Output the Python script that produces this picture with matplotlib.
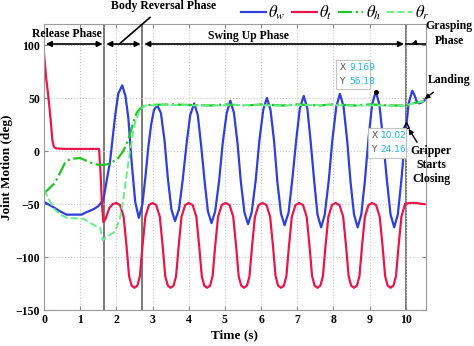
import matplotlib.pyplot as plt
from matplotlib.patches import Rectangle

plt.rcParams['mathtext.fontset'] = 'stix'

# theta_w (blue)
tw = [0, 0.1, 0.26, 0.45, 0.62, 1.04, 1.15, 1.36, 1.5, 1.64, 1.72, 1.82, 1.96, 2.05, 2.16,
      2.25, 2.33, 2.42, 2.52, 2.62, 2.72, 2.8, 2.88, 2.96, 3.04, 3.13,
      3.23, 3.33, 3.42, 3.52, 3.62, 3.73, 3.83, 3.94, 4.04, 4.15,
      4.25, 4.34, 4.44, 4.53, 4.63, 4.73, 4.84, 4.94, 5.05, 5.15,
      5.25, 5.35, 5.44, 5.54, 5.64, 5.74, 5.85, 5.95, 6.06, 6.16,
      6.26, 6.36, 6.45, 6.55, 6.65, 6.76, 6.86, 6.97, 7.07, 7.18,
      7.28, 7.37, 7.47, 7.56, 7.66, 7.76, 7.87, 7.97, 8.08, 8.18,
      8.28, 8.38, 8.47, 8.57, 8.67, 8.77, 8.87, 8.97, 9.07, 9.17,
      9.27, 9.37, 9.48, 9.58, 9.68, 9.78, 9.88, 9.98, 10.08, 10.18,
      10.25, 10.3, 10.37, 10.45, 10.52]
vw = [-48, -50, -53, -57, -60, -60, -58, -55, -52, -46, -30, -11, 32, 54, 62,
      52, 31, -10, -48, -63, -50, -25, 3, 25, 39, 43,
      36, 10, -25, -55, -66, -55, -28, 7, 34, 45,
      34, 6, -29, -57, -68, -57, -28, 8, 36, 47.5,
      36, 7, -29, -58, -69, -58, -28, 9, 39, 50,
      39, 9, -29, -59, -70, -58, -28, 10, 40, 52,
      40, 9, -29, -60, -72, -60, -28, 10, 42, 54,
      42, 10, -28, -60, -72, -60, -28, 12, 44, 56.2,
      44, 12, -28, -60, -72, -60, -27, 12, 45, 57,
      52, 47, 45, 46, 48]

# theta_t (red)
tt = [0, 0.06, 0.12, 0.18, 0.23, 0.27, 0.33, 0.6, 1.0, 1.52, 1.56, 1.6, 1.64, 1.7, 1.8, 1.9, 2.0,
      2.1, 2.2, 2.28, 2.35, 2.42, 2.5, 2.58, 2.65, 2.72, 2.8, 2.9, 3.0,
      3.1, 3.2, 3.28, 3.35, 3.42, 3.5, 3.58, 3.65, 3.72, 3.8, 3.9, 4.0,
      4.11, 4.21, 4.29, 4.36, 4.43, 4.51, 4.59, 4.66, 4.73, 4.81, 4.91, 5.02,
      5.13, 5.23, 5.31, 5.38, 5.45, 5.53, 5.61, 5.68, 5.75, 5.83, 5.93, 6.04,
      6.15, 6.25, 6.33, 6.4, 6.47, 6.55, 6.63, 6.7, 6.77, 6.85, 6.95, 7.05,
      7.16, 7.26, 7.34, 7.41, 7.48, 7.56, 7.64, 7.71, 7.78, 7.86, 7.96, 8.06,
      8.17, 8.27, 8.35, 8.42, 8.49, 8.57, 8.65, 8.72, 8.79, 8.87, 8.97, 9.07,
      9.18, 9.28, 9.36, 9.43, 9.5, 9.58, 9.66, 9.73, 9.8, 9.88, 9.98, 10.1,
      10.3, 10.45, 10.52]
vt = [91, 68, 51, 30, 10, 4, 2.5, 2, 2, 2, -20, -50, -67, -64, -54, -50, -49,
      -51, -62, -90, -118, -127, -129, -127, -118, -90, -62, -51, -49,
      -51, -62, -90, -118, -127, -129, -127, -118, -90, -62, -51, -49,
      -51, -62, -90, -118, -127, -129, -127, -118, -90, -62, -51, -49,
      -51, -62, -90, -118, -127, -129, -127, -118, -90, -62, -51, -49,
      -51, -62, -90, -118, -127, -129, -127, -118, -90, -62, -51, -49,
      -51, -62, -90, -118, -127, -129, -127, -118, -90, -62, -51, -49,
      -51, -62, -90, -118, -127, -129, -127, -118, -90, -62, -51, -49,
      -51, -62, -90, -118, -127, -129, -127, -118, -90, -62, -50, -49,
      -49, -50, -50]

# theta_h (green, dash-dot)
th = [0, 0.15, 0.3, 0.45, 0.58, 0.72, 1.0, 1.27, 1.5, 1.65, 1.82, 1.95, 2.05, 2.19, 2.33,
      2.45, 2.56, 2.65, 2.74, 2.9, 3.5, 4.0, 4.6, 5.0, 5.6, 6.0, 6.6, 7.0, 7.6, 8.0, 8.6,
      9.0, 9.6, 9.9, 10.0, 10.2, 10.5]
vh = [-40, -35, -30, -20, -11, -7.5, -6.6, -10.7, -13, -13, -12, -9, -6.6, 0, 10.6,
      25, 36, 40, 42, 43.5, 44, 43.5, 43, 44, 43, 44, 43, 44, 43, 44, 43,
      44, 43, 43, 42, 45, 47]

# theta_r (light green, dashed)
tr = [0, 0.26, 0.45, 0.63, 1.09, 1.36, 1.55, 1.62, 1.73, 1.96, 2.1, 2.19, 2.3, 2.38,
      2.5, 2.65, 2.8, 3.5, 4.5, 5.5, 6.5, 7.5, 8.5, 9.5, 9.95, 10.2, 10.5]
vr = [-36.6, -54, -60, -63, -64, -69.5, -72.6, -84, -81, -76, -63, -46, -17.6, 1,
      25, 39, 43, 43.5, 43, 43.5, 43, 43.5, 43, 43, 42.5, 45, 47]

xticks = [0, 1, 2, 3, 4, 5, 6, 7, 8, 9, 10]
yticks = [-150, -100, -50, 0, 50, 100]
phase_lines = [1.67, 2.72, 10.0]
tips = [(9.169, 56.18), (10.02, 24.16)]

serif = 'Liberation Serif'

fig = plt.figure(figsize=(4.74, 3.46), dpi=100)
ax = fig.add_axes([0.093, 0.104, 0.805, 0.827])

l1, = ax.plot(tw, vw, color='#2f3fd8', lw=1.6, label=r'$\theta_w$')
l2, = ax.plot(tt, vt, color='#e8174a', lw=1.6, label=r'$\theta_t$')
l3, = ax.plot(th, vh, color='#22c422', lw=1.6, ls='-.', label=r'$\theta_h$')
l4, = ax.plot(tr, vr, color='#66ee88', lw=1.4, ls='--', label=r'$\theta_r$')

for x in phase_lines:
    ax.axvline(x, color='#6e6e6e', lw=1.3, zorder=1)

ax.set_xlim(0, 10.55)
ax.set_ylim(-150, 120)
ax.set_xticks(xticks)
ax.set_yticks(yticks)
ax.set_yticklabels(['\u2212150', '\u2212100', '\u221250', '0', '50', '100'])
ax.grid(True, ls=':', color='#c8c8c8', lw=0.8)
ax.tick_params(direction='in', top=True, right=True, length=3, color='#888888',
               labelsize=8.5, pad=3)
for lab in ax.get_xticklabels() + ax.get_yticklabels():
    lab.set_fontfamily(serif)
    lab.set_fontweight('bold')
for s in ax.spines.values():
    s.set_color('#9a9a9a')

ax.set_xlabel('Time (s)', fontfamily=serif, fontweight='bold', fontsize=9.5, labelpad=2)
ax.set_ylabel('Joint Motion (deg)', fontfamily=serif, fontweight='bold', fontsize=9.5, labelpad=2)

# phase arrows
arr = dict(arrowstyle='<|-|>', color='black', lw=1.2, mutation_scale=8, shrinkA=0, shrinkB=0)
ax.annotate('', xy=(0.05, 101), xytext=(1.62, 101), arrowprops=arr)
ax.annotate('', xy=(1.72, 101), xytext=(2.67, 101), arrowprops=arr)
ax.annotate('', xy=(2.77, 101), xytext=(9.95, 101), arrowprops=arr)
ax.plot([10.0, 10.55], [101, 101], color='black', lw=1.2, clip_on=False)

txt = dict(fontfamily=serif, fontweight='bold', fontsize=8.5)
ax.text(0.64, 110, 'Release Phase', ha='center', va='center', **txt)
ax.text(5.64, 109, 'Swing Up Phase', ha='center', va='center', **txt)
ax.annotate('Body Reversal Phase', xy=(2.08, 101), xytext=(3.3, 137), ha='center', va='center',
            annotation_clip=False, arrowprops=dict(arrowstyle='-', color='black', lw=1.2,
                                                   shrinkA=3, shrinkB=0), **txt)
ax.annotate('Grasping\nPhase', xy=(10.15, 101), xytext=(11.2, 111), ha='center', va='center',
            annotation_clip=False, linespacing=1.3,
            arrowprops=dict(arrowstyle='-|>', color='black', lw=1.0, mutation_scale=7,
                            shrinkA=6, shrinkB=0), **txt)
ax.annotate('Landing', xy=(10.52, 49), xytext=(11.2, 67), ha='center', va='center',
            annotation_clip=False,
            arrowprops=dict(arrowstyle='-|>', color='black', lw=1.0, mutation_scale=7,
                            shrinkA=4, shrinkB=0), **txt)
ax.annotate('Gripper\nStarts\nClosing', xy=(10.08, 21), xytext=(10.7, -13), ha='center',
            va='center', annotation_clip=False, linespacing=1.2,
            arrowprops=dict(arrowstyle='-|>', color='black', lw=1.0, mutation_scale=7,
                            shrinkA=14, shrinkB=0), **txt)

# data tips: (box left, box bottom, box width, box height) in data units
tip_boxes = [(8.07, 58.5, 0.93, 27.5), (8.95, -6.5, 1.05, 28.5)]
ax.plot([tips[0][0]], [tips[0][1]], 'o', color='black', ms=2.5, zorder=5)
ax.plot([tips[1][0]], [tips[1][1]], '^', mfc='none', mec='black', ms=4, zorder=5)
for (x, y), (bx, by, bw, bh) in zip(tips, tip_boxes):
    ax.add_patch(Rectangle((bx, by), bw, bh, fc='white', ec='#c0c0c0', lw=0.8,
                           alpha=0.95, zorder=6))
    ax.text(bx + 0.1, by + bh / 2, 'X\nY', ha='left', va='center', fontsize=6.5,
            color='#555555', fontfamily='DejaVu Sans', linespacing=1.7, zorder=7)
    ax.text(bx + 0.36, by + bh / 2, '%g\n%g' % (x, y), ha='left', va='center', fontsize=6.5,
            color='#22b5e8', fontfamily='DejaVu Sans', linespacing=1.7, zorder=7)

fig.legend(handles=[l1, l2, l3, l4], loc='center', bbox_to_anchor=(0.707, 0.962), ncol=4,
           frameon=False, fontsize=12, handlelength=1.5, handletextpad=0.15,
           columnspacing=0.35, borderpad=0)

fig.savefig('out.png', dpi=100)
